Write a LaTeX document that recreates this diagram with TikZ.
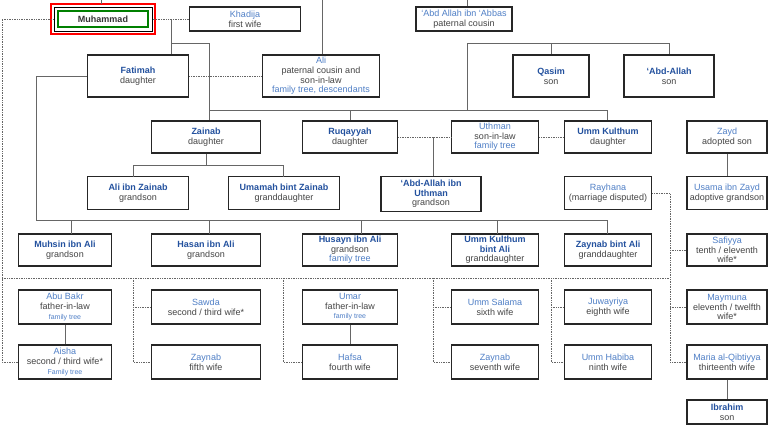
\documentclass[tikz,border=0pt]{standalone}
\usepackage{fontspec}
\setmainfont{Liberation Sans}
\usepackage{tikz}
\usetikzlibrary{positioning}
\definecolor{namedark}{HTML}{23519E}
\definecolor{namelight}{HTML}{4F7FC6}
\definecolor{subgray}{HTML}{444444}
\newcommand{\nm}[1]{{\bfseries\color{namedark}#1}}
\newcommand{\lk}[1]{{\color{namelight}#1}}
\newcommand{\smlk}[1]{{\fontsize{7}{8}\selectfont\color{namelight}#1}}
\tikzstyle{person} = [rectangle, draw=black!85, line width=1.2pt, fill=white,
    align=center, inner sep=1pt, text=subgray, font=\fontsize{9}{9.6}\selectfont]
\tikzstyle{line} = [draw, line width=0.8pt, black!60]
\tikzstyle{marr} = [draw, line width=0.7pt, black!60, densely dotted]

\begin{document}
\begin{tikzpicture}[x=1pt, y=-1pt]
    \useasboundingbox (0,0) rectangle (768,426);
    % Place nodes
    \node [person, minimum width=98, minimum height=24, draw=black, line width=1pt] (muhammad) at (103,19) {};
    \node [person, minimum width=90, minimum height=16, draw=green!50!black, line width=1.5pt, text=black!80] at (103,19) {\bfseries Muhammad};
    \draw [red, line width=1.5pt] (51,4) rectangle (155,34);
    \node [person, minimum width=111, minimum height=24] (khadija) at (245,19) {\lk{Khadija}\\first wife};
    \node [person, minimum width=96, minimum height=24] (abbas) at (464,19) {\lk{`Abd Allah ibn `Abbas}\\paternal cousin};
    \node [person, minimum width=101, minimum height=42] (fatimah) at (138,76) {\nm{Fatimah}\\daughter};
    \node [person, minimum width=117, minimum height=42] (ali) at (321,76) {\lk{Ali}\\paternal cousin and\\son-in-law\\\lk{family tree, descendants}};
    \node [person, minimum width=76, minimum height=42] (qasim) at (551,76) {\nm{Qasim}\\son};
    \node [person, minimum width=90, minimum height=42] (abdallah) at (669,76) {\nm{`Abd-Allah}\\son};
    \node [person, minimum width=109, minimum height=32] (zainab) at (206,137) {\nm{Zainab}\\daughter};
    \node [person, minimum width=95, minimum height=32] (ruqayyah) at (350,137) {\nm{Ruqayyah}\\daughter};
    \node [person, minimum width=87, minimum height=32] (uthman) at (495,137) {\lk{Uthman}\\son-in-law\\\lk{family tree}};
    \node [person, minimum width=87, minimum height=32] (ummkulthum) at (608,137) {\nm{Umm Kulthum}\\daughter};
    \node [person, minimum width=80, minimum height=32] (zayd) at (727,137) {\lk{Zayd}\\adopted son};
    \node [person, minimum width=101, minimum height=33] (alizainab) at (138,193) {\nm{Ali ibn Zainab}\\grandson};
    \node [person, minimum width=111, minimum height=33] (umamah) at (284,193) {\nm{Umamah bint Zainab}\\granddaughter};
    \node [person, minimum width=100, minimum height=35] (abduthman) at (431,194) {\nm{`Abd-Allah ibn}\\\nm{Uthman}\\grandson};
    \node [person, minimum width=87, minimum height=33] (rayhana) at (608,193) {\lk{Rayhana}\\(marriage disputed)};
    \node [person, minimum width=80, minimum height=33] (usama) at (727,193) {\lk{Usama ibn Zayd}\\adoptive grandson};
    \node [person, minimum width=93, minimum height=32] (muhsin) at (65,250) {\nm{Muhsin ibn Ali}\\grandson};
    \node [person, minimum width=109, minimum height=32] (hasan) at (206,250) {\nm{Hasan ibn Ali}\\grandson};
    \node [person, minimum width=95, minimum height=32] (husayn) at (350,250) {\nm{Husayn ibn Ali}\\grandson\\\lk{family tree}};
    \node [person, minimum width=87, minimum height=32] (kulthumali) at (495,250) {\nm{Umm Kulthum}\\\nm{bint Ali}\\granddaughter};
    \node [person, minimum width=87, minimum height=32] (zaynabali) at (608,250) {\nm{Zaynab bint Ali}\\granddaughter};
    \node [person, minimum width=80, minimum height=32] (safiyya) at (727,250) {\lk{Safiyya}\\tenth / eleventh\\wife*};
    \node [person, minimum width=93, minimum height=34] (abubakr) at (65,307) {\lk{Abu Bakr}\\father-in-law\\\smlk{family tree}};
    \node [person, minimum width=109, minimum height=34] (sawda) at (206,307) {\lk{Sawda}\\second / third wife*};
    \node [person, minimum width=95, minimum height=34] (umar) at (350,307) {\lk{Umar}\\father-in-law\\\smlk{family tree}};
    \node [person, minimum width=87, minimum height=34] (ummsalama) at (495,307) {\lk{Umm Salama}\\sixth wife};
    \node [person, minimum width=87, minimum height=34] (juwayriya) at (608,307) {\lk{Juwayriya}\\eighth wife};
    \node [person, minimum width=80, minimum height=34] (maymuna) at (727,307) {\lk{Maymuna}\\eleventh / twelfth\\wife*};
    \node [person, minimum width=93, minimum height=34] (aisha) at (65,362) {\lk{Aisha}\\second / third wife*\\\smlk{Family tree}};
    \node [person, minimum width=109, minimum height=34] (zaynabfifth) at (206,362) {\lk{Zaynab}\\fifth wife};
    \node [person, minimum width=95, minimum height=34] (hafsa) at (350,362) {\lk{Hafsa}\\fourth wife};
    \node [person, minimum width=87, minimum height=34] (zaynabseventh) at (495,362) {\lk{Zaynab}\\seventh wife};
    \node [person, minimum width=87, minimum height=34] (ummhabiba) at (608,362) {\lk{Umm Habiba}\\ninth wife};
    \node [person, minimum width=80, minimum height=34] (maria) at (727,362) {\lk{Maria al-Qibtiyya}\\thirteenth wife};
    \node [person, minimum width=80, minimum height=24] (ibrahim) at (727,412) {\nm{Ibrahim}\\son};
    % Coordinates for the branches
    \coordinate (top) at (101,0);
    \coordinate (alitop) at (322,0);
    \coordinate (abbastop) at (467,0);
    \coordinate (wl) at (2,278);
    \coordinate (wr) at (670,278);
    % Marriages
    \path [marr] (muhammad) -- (khadija);
    \path [marr] (fatimah) -- (ali);
    \path [marr] (ruqayyah) -- (uthman);
    \path [marr] (uthman) -- (ummkulthum);
    \path [marr] (muhammad.west) -| (2,362) -- (aisha.west);
    \path [marr] (wl) -- (wr);
    \path [marr] (rayhana.east) -| (670,362) -- (maria.west);
    \path [marr] (670,250) -- (safiyya.west);
    \path [marr] (670,307) -- (maymuna.west);
    \foreach \xx/\a/\b in {133/sawda/zaynabfifth, 433/ummsalama/zaynabseventh, 551/juwayriya/ummhabiba}
        \path [marr] (\xx,278) |- (\b.west) (\xx,307) -- (\a.west);
    \path [marr] (283,278) |- (hafsa.west);
    % Descent
    \path [line] (top) -- (101,4);
    \path [line] (alitop) -- (ali.north -| alitop);
    \path [line] (abbastop) -- (abbas.north -| abbastop);
    \path [line] (171,19) -- (171,43) -- (209,43) -- (zainab.north -| 209,0);
    \path [line] (171,43) -- (fatimah.north -| 171,0);
    \path [line] (209,110) -- (607,110) -- (ummkulthum.north -| 607,0);
    \path [line] (350,110) -- (ruqayyah);
    \path [line] (467,110) -- (467,43) -- (669,43) -- (abdallah);
    \path [line] (551,43) -- (qasim);
    \path [line] (zainab) -- (206,165);
    \path [line] (133,177) -- (133,165) -- (283,165) -- (283,177);
    \path [line] (433,137) -- (abduthman.north -| 433,0);
    \path [line] (zayd) -- (usama);
    \path [line] (fatimah.west) -- (36,76) -- (36,220) -- (607,220) -- (607,234);
    \foreach \xx in {71,209,361,497}
        \path [line] (\xx,220) -- (\xx,234);
    \path [line] (abubakr) -- (aisha);
    \path [line] (umar) -- (hafsa);
    \path [line] (maria) -- (ibrahim);
\end{tikzpicture}
\end{document}
